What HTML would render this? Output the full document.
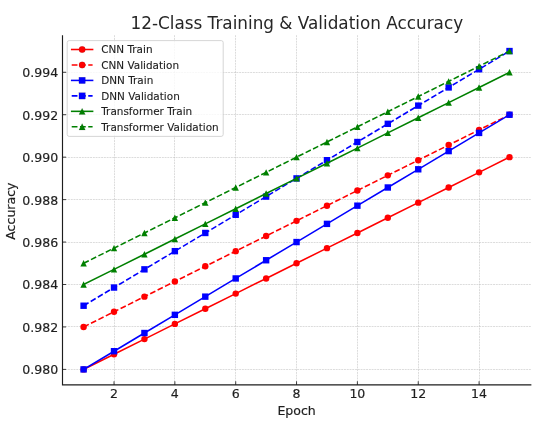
<!DOCTYPE html>
<html lang="en"><head><meta charset="utf-8"><title>12-Class Training &amp; Validation Accuracy</title>
<style>html,body{margin:0;padding:0;background:#fff;overflow:hidden}body{width:550px;height:425px}</style></head>
<body>
<svg width="550" height="425" viewBox="0 0 550 425" style="display:block">
<rect width="550" height="425" fill="#fff"/>
<path d="M114.50,384.9V35.1 M174.50,384.9V35.1 M235.50,384.9V35.1 M296.50,384.9V35.1 M357.50,384.9V35.1 M418.50,384.9V35.1 M479.50,384.9V35.1 M62.5,369.50H530.8 M62.5,326.50H530.8 M62.5,284.50H530.8 M62.5,242.50H530.8 M62.5,199.50H530.8 M62.5,157.50H530.8 M62.5,114.50H530.8 M62.5,72.50H530.8" stroke="#b0b0b0" stroke-opacity="0.75" stroke-width="0.6" stroke-dasharray="1.93 0.83" fill="none"/>
<polyline points="83.60,369.40 114.02,354.24 144.44,339.08 174.86,323.92 205.29,308.76 235.71,293.60 266.13,278.45 296.55,263.29 326.97,248.13 357.39,232.97 387.81,217.81 418.24,202.65 448.66,187.49 479.08,172.33 509.50,157.17" fill="none" stroke="#ff0000" stroke-width="1.56" stroke-linejoin="round" stroke-linecap="square"/>
<circle cx="83.60" cy="369.40" r="3.20" fill="#ff0000"/><circle cx="114.02" cy="354.24" r="3.20" fill="#ff0000"/><circle cx="144.44" cy="339.08" r="3.20" fill="#ff0000"/><circle cx="174.86" cy="323.92" r="3.20" fill="#ff0000"/><circle cx="205.29" cy="308.76" r="3.20" fill="#ff0000"/><circle cx="235.71" cy="293.60" r="3.20" fill="#ff0000"/><circle cx="266.13" cy="278.45" r="3.20" fill="#ff0000"/><circle cx="296.55" cy="263.29" r="3.20" fill="#ff0000"/><circle cx="326.97" cy="248.13" r="3.20" fill="#ff0000"/><circle cx="357.39" cy="232.97" r="3.20" fill="#ff0000"/><circle cx="387.81" cy="217.81" r="3.20" fill="#ff0000"/><circle cx="418.24" cy="202.65" r="3.20" fill="#ff0000"/><circle cx="448.66" cy="187.49" r="3.20" fill="#ff0000"/><circle cx="479.08" cy="172.33" r="3.20" fill="#ff0000"/><circle cx="509.50" cy="157.17" r="3.20" fill="#ff0000"/>
<polyline points="83.60,326.95 114.02,311.80 144.44,296.64 174.86,281.48 205.29,266.32 235.71,251.16 266.13,236.00 296.55,220.84 326.97,205.68 357.39,190.52 387.81,175.36 418.24,160.21 448.66,145.05 479.08,129.89 509.50,114.73" fill="none" stroke="#ff0000" stroke-width="1.56" stroke-linejoin="round" stroke-dasharray="5.77 2.50"/>
<circle cx="83.60" cy="326.95" r="3.20" fill="#ff0000"/><circle cx="114.02" cy="311.80" r="3.20" fill="#ff0000"/><circle cx="144.44" cy="296.64" r="3.20" fill="#ff0000"/><circle cx="174.86" cy="281.48" r="3.20" fill="#ff0000"/><circle cx="205.29" cy="266.32" r="3.20" fill="#ff0000"/><circle cx="235.71" cy="251.16" r="3.20" fill="#ff0000"/><circle cx="266.13" cy="236.00" r="3.20" fill="#ff0000"/><circle cx="296.55" cy="220.84" r="3.20" fill="#ff0000"/><circle cx="326.97" cy="205.68" r="3.20" fill="#ff0000"/><circle cx="357.39" cy="190.52" r="3.20" fill="#ff0000"/><circle cx="387.81" cy="175.36" r="3.20" fill="#ff0000"/><circle cx="418.24" cy="160.21" r="3.20" fill="#ff0000"/><circle cx="448.66" cy="145.05" r="3.20" fill="#ff0000"/><circle cx="479.08" cy="129.89" r="3.20" fill="#ff0000"/><circle cx="509.50" cy="114.73" r="3.20" fill="#ff0000"/>
<polyline points="83.60,369.40 114.02,351.21 144.44,333.02 174.86,314.83 205.29,296.64 235.71,278.45 266.13,260.25 296.55,242.06 326.97,223.87 357.39,205.68 387.81,187.49 418.24,169.30 448.66,151.11 479.08,132.92 509.50,114.73" fill="none" stroke="#0000ff" stroke-width="1.56" stroke-linejoin="round" stroke-linecap="square"/>
<rect x="80.40" y="366.20" width="6.40" height="6.40" fill="#0000ff"/><rect x="110.82" y="348.01" width="6.40" height="6.40" fill="#0000ff"/><rect x="141.24" y="329.82" width="6.40" height="6.40" fill="#0000ff"/><rect x="171.66" y="311.63" width="6.40" height="6.40" fill="#0000ff"/><rect x="202.09" y="293.44" width="6.40" height="6.40" fill="#0000ff"/><rect x="232.51" y="275.25" width="6.40" height="6.40" fill="#0000ff"/><rect x="262.93" y="257.05" width="6.40" height="6.40" fill="#0000ff"/><rect x="293.35" y="238.86" width="6.40" height="6.40" fill="#0000ff"/><rect x="323.77" y="220.67" width="6.40" height="6.40" fill="#0000ff"/><rect x="354.19" y="202.48" width="6.40" height="6.40" fill="#0000ff"/><rect x="384.61" y="184.29" width="6.40" height="6.40" fill="#0000ff"/><rect x="415.04" y="166.10" width="6.40" height="6.40" fill="#0000ff"/><rect x="445.46" y="147.91" width="6.40" height="6.40" fill="#0000ff"/><rect x="475.88" y="129.72" width="6.40" height="6.40" fill="#0000ff"/><rect x="506.30" y="111.53" width="6.40" height="6.40" fill="#0000ff"/>
<polyline points="83.60,305.73 114.02,287.54 144.44,269.35 174.86,251.16 205.29,232.97 235.71,214.78 266.13,196.59 296.55,178.40 326.97,160.21 357.39,142.01 387.81,123.82 418.24,105.63 448.66,87.44 479.08,69.25 509.50,51.06" fill="none" stroke="#0000ff" stroke-width="1.56" stroke-linejoin="round" stroke-dasharray="5.77 2.50"/>
<rect x="80.40" y="302.53" width="6.40" height="6.40" fill="#0000ff"/><rect x="110.82" y="284.34" width="6.40" height="6.40" fill="#0000ff"/><rect x="141.24" y="266.15" width="6.40" height="6.40" fill="#0000ff"/><rect x="171.66" y="247.96" width="6.40" height="6.40" fill="#0000ff"/><rect x="202.09" y="229.77" width="6.40" height="6.40" fill="#0000ff"/><rect x="232.51" y="211.58" width="6.40" height="6.40" fill="#0000ff"/><rect x="262.93" y="193.39" width="6.40" height="6.40" fill="#0000ff"/><rect x="293.35" y="175.20" width="6.40" height="6.40" fill="#0000ff"/><rect x="323.77" y="157.01" width="6.40" height="6.40" fill="#0000ff"/><rect x="354.19" y="138.81" width="6.40" height="6.40" fill="#0000ff"/><rect x="384.61" y="120.62" width="6.40" height="6.40" fill="#0000ff"/><rect x="415.04" y="102.43" width="6.40" height="6.40" fill="#0000ff"/><rect x="445.46" y="84.24" width="6.40" height="6.40" fill="#0000ff"/><rect x="475.88" y="66.05" width="6.40" height="6.40" fill="#0000ff"/><rect x="506.30" y="47.86" width="6.40" height="6.40" fill="#0000ff"/>
<polyline points="83.60,284.51 114.02,269.35 144.44,254.19 174.86,239.03 205.29,223.87 235.71,208.71 266.13,193.56 296.55,178.40 326.97,163.24 357.39,148.08 387.81,132.92 418.24,117.76 448.66,102.60 479.08,87.44 509.50,72.28" fill="none" stroke="#008000" stroke-width="1.56" stroke-linejoin="round" stroke-linecap="square"/>
<polygon points="83.60,281.31 80.40,287.71 86.80,287.71" fill="#008000"/><polygon points="114.02,266.15 110.82,272.55 117.22,272.55" fill="#008000"/><polygon points="144.44,250.99 141.24,257.39 147.64,257.39" fill="#008000"/><polygon points="174.86,235.83 171.66,242.23 178.06,242.23" fill="#008000"/><polygon points="205.29,220.67 202.09,227.07 208.49,227.07" fill="#008000"/><polygon points="235.71,205.51 232.51,211.91 238.91,211.91" fill="#008000"/><polygon points="266.13,190.36 262.93,196.76 269.33,196.76" fill="#008000"/><polygon points="296.55,175.20 293.35,181.60 299.75,181.60" fill="#008000"/><polygon points="326.97,160.04 323.77,166.44 330.17,166.44" fill="#008000"/><polygon points="357.39,144.88 354.19,151.28 360.59,151.28" fill="#008000"/><polygon points="387.81,129.72 384.61,136.12 391.01,136.12" fill="#008000"/><polygon points="418.24,114.56 415.04,120.96 421.44,120.96" fill="#008000"/><polygon points="448.66,99.40 445.46,105.80 451.86,105.80" fill="#008000"/><polygon points="479.08,84.24 475.88,90.64 482.28,90.64" fill="#008000"/><polygon points="509.50,69.08 506.30,75.48 512.70,75.48" fill="#008000"/>
<polyline points="83.60,263.29 114.02,248.13 144.44,232.97 174.86,217.81 205.29,202.65 235.71,187.49 266.13,172.33 296.55,157.17 326.97,142.01 357.39,126.86 387.81,111.70 418.24,96.54 448.66,81.38 479.08,66.22 509.50,51.06" fill="none" stroke="#008000" stroke-width="1.56" stroke-linejoin="round" stroke-dasharray="5.77 2.50"/>
<polygon points="83.60,260.09 80.40,266.49 86.80,266.49" fill="#008000"/><polygon points="114.02,244.93 110.82,251.33 117.22,251.33" fill="#008000"/><polygon points="144.44,229.77 141.24,236.17 147.64,236.17" fill="#008000"/><polygon points="174.86,214.61 171.66,221.01 178.06,221.01" fill="#008000"/><polygon points="205.29,199.45 202.09,205.85 208.49,205.85" fill="#008000"/><polygon points="235.71,184.29 232.51,190.69 238.91,190.69" fill="#008000"/><polygon points="266.13,169.13 262.93,175.53 269.33,175.53" fill="#008000"/><polygon points="296.55,153.97 293.35,160.37 299.75,160.37" fill="#008000"/><polygon points="326.97,138.81 323.77,145.21 330.17,145.21" fill="#008000"/><polygon points="357.39,123.66 354.19,130.06 360.59,130.06" fill="#008000"/><polygon points="387.81,108.50 384.61,114.90 391.01,114.90" fill="#008000"/><polygon points="418.24,93.34 415.04,99.74 421.44,99.74" fill="#008000"/><polygon points="448.66,78.18 445.46,84.58 451.86,84.58" fill="#008000"/><polygon points="479.08,63.02 475.88,69.42 482.28,69.42" fill="#008000"/><polygon points="509.50,47.86 506.30,54.26 512.70,54.26" fill="#008000"/>
<path d="M62.5,35.800000000000004V384.9H530.8" fill="none" stroke="#1e1e1e" stroke-width="1.15" stroke-linecap="square"/>
<path d="M114.02,384.9v-3.6 M174.86,384.9v-3.6 M235.71,384.9v-3.6 M296.55,384.9v-3.6 M357.39,384.9v-3.6 M418.24,384.9v-3.6 M479.08,384.9v-3.6 M62.5,369.40h3.6 M62.5,326.95h3.6 M62.5,284.51h3.6 M62.5,242.06h3.6 M62.5,199.62h3.6 M62.5,157.17h3.6 M62.5,114.73h3.6 M62.5,72.28h3.6" stroke="#1e1e1e" stroke-width="0.85" fill="none"/>
<g font-family="'DejaVu Sans','Liberation Sans',sans-serif" font-size="12.55" fill="#1e1e1e" stroke="#1e1e1e" stroke-width="0.18">
<text x="114.02" y="398.3" text-anchor="middle">2</text>
<text x="174.86" y="398.3" text-anchor="middle">4</text>
<text x="235.71" y="398.3" text-anchor="middle">6</text>
<text x="296.55" y="398.3" text-anchor="middle">8</text>
<text x="357.39" y="398.3" text-anchor="middle">10</text>
<text x="418.24" y="398.3" text-anchor="middle">12</text>
<text x="479.08" y="398.3" text-anchor="middle">14</text>
<text x="58.2" y="374.30" text-anchor="end">0.980</text>
<text x="58.2" y="331.85" text-anchor="end">0.982</text>
<text x="58.2" y="289.41" text-anchor="end">0.984</text>
<text x="58.2" y="246.96" text-anchor="end">0.986</text>
<text x="58.2" y="204.52" text-anchor="end">0.988</text>
<text x="58.2" y="162.07" text-anchor="end">0.990</text>
<text x="58.2" y="119.63" text-anchor="end">0.992</text>
<text x="58.2" y="77.18" text-anchor="end">0.994</text>
<text x="296.6" y="415.0" text-anchor="middle">Epoch</text>
<text transform="translate(15.4,211.1) rotate(-90)" text-anchor="middle">Accuracy</text>
</g>
<text x="296.8" y="29.0" text-anchor="middle" font-family="'DejaVu Sans','Liberation Sans',sans-serif" font-size="16.83" fill="#262626">12-Class Training &amp; Validation Accuracy</text>
<rect x="67.2" y="40.6" width="156.0" height="95.8" rx="2" ry="2" fill="#fff" fill-opacity="0.8" stroke="#cccccc" stroke-opacity="0.8" stroke-width="1"/>
<g font-family="'DejaVu Sans','Liberation Sans',sans-serif" font-size="10.45" fill="#1e1e1e" stroke="#1e1e1e" stroke-width="0.12">
<path d="M71.7,49.50H92.6" stroke="#ff0000" stroke-width="1.56" stroke-linecap="square"/>
<circle cx="82.15" cy="49.50" r="3.20" fill="#ff0000"/>
<text x="101.25" y="53.20">CNN Train</text>
<path d="M71.7,64.96H92.6" stroke="#ff0000" stroke-width="1.56" stroke-dasharray="5.77 2.50"/>
<circle cx="82.15" cy="64.96" r="3.20" fill="#ff0000"/>
<text x="101.25" y="68.66">CNN Validation</text>
<path d="M71.7,80.42H92.6" stroke="#0000ff" stroke-width="1.56" stroke-linecap="square"/>
<rect x="78.95" y="77.22" width="6.40" height="6.40" fill="#0000ff"/>
<text x="101.25" y="84.12">DNN Train</text>
<path d="M71.7,95.88H92.6" stroke="#0000ff" stroke-width="1.56" stroke-dasharray="5.77 2.50"/>
<rect x="78.95" y="92.68" width="6.40" height="6.40" fill="#0000ff"/>
<text x="101.25" y="99.58">DNN Validation</text>
<path d="M71.7,111.34H92.6" stroke="#008000" stroke-width="1.56" stroke-linecap="square"/>
<polygon points="82.15,108.14 78.95,114.54 85.35,114.54" fill="#008000"/>
<text x="101.25" y="115.04">Transformer Train</text>
<path d="M71.7,126.80H92.6" stroke="#008000" stroke-width="1.56" stroke-dasharray="5.77 2.50"/>
<polygon points="82.15,123.60 78.95,130.00 85.35,130.00" fill="#008000"/>
<text x="101.25" y="130.50">Transformer Validation</text>
</g>
</svg>
</body></html>
